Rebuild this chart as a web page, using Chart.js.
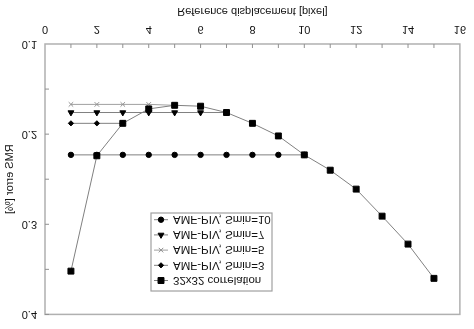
<!DOCTYPE html>
<html lang="en">
<head>
    <meta charset="UTF-8">
    <title>RMS error vs reference displacement</title>
    <style>
        body { margin: 0; background: #fff; }
        .chart-container { width: 474px; height: 329px; transform: scaleY(-1); }
    </style>
    <script src="https://cdn.jsdelivr.net/npm/chart.js"></script>
</head>
<body>
    <div class="chart-container">
        <canvas id="rmsChart"></canvas>
    </div>

    <script>
        const displacement = [1, 2, 3, 4, 5, 6, 7, 8, 9, 10, 11, 12, 13, 14, 15];
        const smin10 = [0.223, 0.223, 0.223, 0.223, 0.223, 0.223, 0.223, 0.223, 0.223, 0.223];
        const smin7 = [0.176, 0.176, 0.176, 0.176, 0.176, 0.176, 0.176];
        const smin5 = [0.167, 0.167, 0.167, 0.167, 0.168];
        const smin3 = [0.188, 0.188, 0.188];
        const corr32 = [0.352, 0.224, 0.188, 0.172, 0.168, 0.169, 0.176, 0.188, 0.202, 0.223, 0.240, 0.261, 0.291, 0.322, 0.360];
        const xTicks = [0, 2, 4, 6, 8, 10, 12, 14, 16];
        const yTicks = [0.1, 0.2, 0.3, 0.4];

        const toPoints = vals => vals.map((v, i) => ({ x: displacement[i], y: v }));

        const series = [
            { label: 'AMF-PIV, Smin=10', data: smin10, pointStyle: 'circle', radius: 2.7, color: '#000', line: '#808080' },
            { label: 'AMF-PIV, Smin=7', data: smin7, pointStyle: 'triangle', radius: 3.4, color: '#000', line: '#808080' },
            { label: 'AMF-PIV, Smin=5', data: smin5, pointStyle: 'crossRot', radius: 3.2, color: '#909090', line: '#a0a0a0' },
            { label: 'AMF-PIV, Smin=3', data: smin3, pointStyle: 'rectRot', radius: 2.6, color: '#000', line: '#808080' },
            { label: '32x32 correlation', data: corr32, pointStyle: 'rect', radius: 4.2, color: '#000', line: '#808080' }
        ];

        // frame, inward tick marks and the boxed legend inside the plot
        const framePlugin = {
            id: 'frame',
            afterDraw(chart) {
                const { ctx, chartArea: a, scales } = chart;
                ctx.save();
                ctx.strokeStyle = '#b0b0b0';
                ctx.lineWidth = 1.5;
                ctx.strokeRect(a.left, a.top, a.right - a.left, a.bottom - a.top);

                ctx.lineWidth = 1;
                ctx.strokeStyle = '#909090';
                ctx.beginPath();
                for (let v = 1; v < 16; v++) {
                    const x = scales.x.getPixelForValue(v);
                    ctx.moveTo(x, a.bottom);
                    ctx.lineTo(x, a.bottom - 4);
                }
                for (let v = 0.15; v < 0.4; v += 0.05) {
                    const y = scales.y.getPixelForValue(v);
                    ctx.moveTo(a.left, y);
                    ctx.lineTo(a.left + 4, y);
                }
                ctx.stroke();

                const bx = 151, by = 38, bw = 121, bh = 78;
                ctx.fillStyle = '#fff';
                ctx.fillRect(bx, by, bw, bh);
                ctx.strokeStyle = '#a0a0a0';
                ctx.lineWidth = 1.2;
                ctx.strokeRect(bx, by, bw, bh);

                ctx.font = '11.5px "Liberation Sans", Arial, sans-serif';
                ctx.textBaseline = 'middle';
                const order = series.slice().reverse();
                order.forEach((s, i) => {
                    const y = by + 10.5 + i * 15.2;
                    ctx.strokeStyle = s.line;
                    ctx.lineWidth = 1;
                    ctx.beginPath();
                    ctx.moveTo(bx + 3, y);
                    ctx.lineTo(bx + 17, y);
                    ctx.stroke();
                    ctx.fillStyle = s.color;
                    ctx.strokeStyle = s.color;
                    Chart.helpers.drawPoint(ctx, { pointStyle: s.pointStyle, radius: s.radius, rotation: 0, borderWidth: 1 }, bx + 10, y);
                    ctx.fillStyle = '#111';
                    ctx.fillText(s.label, bx + 22, y + 0.5);
                });
                ctx.restore();
            }
        };

        new Chart(document.getElementById('rmsChart'), {
            type: 'line',
            data: {
                datasets: series.map((s, i) => ({
                    label: s.label,
                    data: toPoints(s.data),
                    borderColor: s.line,
                    borderWidth: 1,
                    pointStyle: s.pointStyle,
                    pointRadius: s.radius,
                    pointBackgroundColor: s.color,
                    pointBorderColor: s.color,
                    pointBorderWidth: 1,
                    fill: false,
                    tension: 0,
                    order: i === 4 ? -1 : i
                }))
            },
            options: {
                responsive: true,
                maintainAspectRatio: false,
                animation: false,
                layout: { padding: { top: 11, right: 11, left: 0, bottom: 0 } },
                plugins: { legend: { display: false }, tooltip: { enabled: false } },
                scales: {
                    x: {
                        type: 'linear',
                        min: 0,
                        max: 16,
                        afterBuildTicks: axis => { axis.ticks = xTicks.map(v => ({ value: v })); },
                        afterFit: axis => { axis.height = 44; },
                        grid: { display: false, drawTicks: false },
                        border: { display: false },
                        ticks: { color: '#111', padding: 8, font: { family: '"Liberation Sans", Arial, sans-serif', size: 11 } },
                        title: {
                            display: true,
                            text: 'Reference displacement [pixel]',
                            color: '#111',
                            padding: { top: 0, bottom: 4 },
                            font: { family: '"Liberation Sans", Arial, sans-serif', size: 11 }
                        }
                    },
                    y: {
                        min: 0.1,
                        max: 0.4,
                        afterBuildTicks: axis => { axis.ticks = yTicks.map(v => ({ value: v })); },
                        afterFit: axis => { axis.width = 45; },
                        grid: { display: false, drawTicks: false },
                        border: { display: false },
                        ticks: {
                            color: '#111',
                            padding: 8,
                            callback: v => v.toFixed(1),
                            font: { family: '"Liberation Sans", Arial, sans-serif', size: 11 }
                        },
                        title: {
                            display: true,
                            text: 'RMS error [%]',
                            color: '#111',
                            padding: { top: 3, bottom: 0 },
                            font: { family: '"Liberation Sans", Arial, sans-serif', size: 11 }
                        }
                    }
                }
            },
            plugins: [framePlugin]
        });
    </script>
</body>
</html>
